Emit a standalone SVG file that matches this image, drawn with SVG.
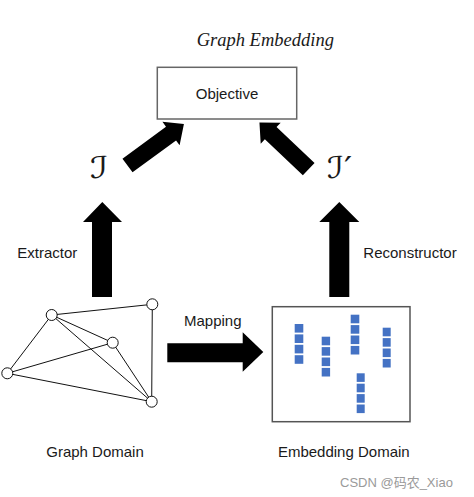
<svg xmlns="http://www.w3.org/2000/svg" width="474" height="497" viewBox="0 0 474 497">
<style>
.lbl{font-family:"Liberation Sans",Arial,sans-serif;font-size:15px;fill:#1a1a1a}
.math{font-family:"DejaVu Sans","Liberation Serif",serif;font-size:30px;font-weight:normal;fill:#1a1a1a}
.edge{stroke:#111;stroke-width:1;fill:none}
.node{fill:#fff;stroke:#111;stroke-width:1}
.sq{fill:#4472C4}
.big{fill:#000}
</style>
<defs>
<path id="diag" d="M0,-8.5 L54,-8.5 L54,-14.5 L70,0 L54,14.5 L54,8.5 L0,8.5 Z"/>
</defs>
<rect width="474" height="497" fill="#fff"/>
<text x="196.7" y="46" font-family="Liberation Serif,serif" font-style="italic" font-size="18.5" fill="#1a1a1a">Graph Embedding</text>
<g id="objective">
<rect x="157.3" y="67.3" width="139.4" height="51.7" fill="#fff" stroke="#666" stroke-width="1.5"/>
<text class="lbl" x="227" y="99" text-anchor="middle">Objective</text>
</g>
<g id="connectors">
<use href="#diag" class="big" transform="translate(127.5,165.5) rotate(-36.3)"/>
<use href="#diag" class="big" transform="translate(308.7,169.2) rotate(-136.5) scale(0.97,1)"/>
<path class="big" d="M92,297 L92,222 L83,222 L102.3,202 L122,222 L112,222 L112,297 Z"/>
<path class="big" d="M329.3,297 L329.3,222 L319.3,222 L339.3,202 L359.3,222 L349.3,222 L349.3,297 Z"/>
<path class="big" d="M167.3,343.3 L242.7,343.3 L242.7,332.3 L263.3,352 L242.7,371.7 L242.7,362.3 L167.3,362.3 Z"/>
</g>
<text class="math" x="90" y="178" transform="translate(90,0) scale(1.3,1) translate(-90,0)">ℐ</text>
<text class="math" x="327" y="178" transform="translate(327,0) scale(1.2,1) translate(-327,0)">ℐ′</text>
<text class="lbl" x="17.3" y="258">Extractor</text>
<text class="lbl" x="363.3" y="258">Reconstructor</text>
<text class="lbl" x="212.8" y="326" text-anchor="middle">Mapping</text>
<g id="graph-domain">
<line class="edge" x1="51.7" y1="315" x2="152.3" y2="304.3"/>
<line class="edge" x1="51.7" y1="315" x2="112.7" y2="342.7"/>
<line class="edge" x1="51.7" y1="315" x2="7.3" y2="373.3"/>
<line class="edge" x1="51.7" y1="315" x2="151.7" y2="401.7"/>
<line class="edge" x1="112.7" y1="342.7" x2="7.3" y2="373.3"/>
<line class="edge" x1="112.7" y1="342.7" x2="151.7" y2="401.7"/>
<line class="edge" x1="7.3" y1="373.3" x2="151.7" y2="401.7"/>
<line class="edge" x1="152.3" y1="304.3" x2="151.7" y2="401.7"/>
<circle class="node" cx="51.7" cy="315" r="5.5"/>
<circle class="node" cx="152.3" cy="304.3" r="5.5"/>
<circle class="node" cx="112.7" cy="342.7" r="5.5"/>
<circle class="node" cx="7.3" cy="373.3" r="5.5"/>
<circle class="node" cx="151.7" cy="401.7" r="5.5"/>
</g>
<text class="lbl" x="95" y="456.5" text-anchor="middle">Graph Domain</text>
<g id="embedding-domain">
<rect x="272.3" y="306.7" width="137.7" height="115" fill="#fff" stroke="#555" stroke-width="1.5"/>
<g class="sq">
<rect x="294.7" y="324" width="8.6" height="8.6"/><rect x="294.7" y="334.4" width="8.6" height="8.6"/><rect x="294.7" y="344.8" width="8.6" height="8.6"/><rect x="294.7" y="355.2" width="8.6" height="8.6"/>
<rect x="321.7" y="336.7" width="8.4" height="8.6"/><rect x="321.7" y="347.1" width="8.4" height="8.6"/><rect x="321.7" y="357.5" width="8.4" height="8.6"/><rect x="321.7" y="367.9" width="8.4" height="8.6"/>
<rect x="350.7" y="314.7" width="8.6" height="8.6"/><rect x="350.7" y="325.1" width="8.6" height="8.6"/><rect x="350.7" y="335.5" width="8.6" height="8.6"/><rect x="350.7" y="345.9" width="8.6" height="8.6"/>
<rect x="382.7" y="327.7" width="8" height="8.6"/><rect x="382.7" y="338.1" width="8" height="8.6"/><rect x="382.7" y="348.5" width="8" height="8.6"/><rect x="382.7" y="358.9" width="8" height="8.6"/>
<rect x="356.7" y="373.3" width="8" height="8.6"/><rect x="356.7" y="383.7" width="8" height="8.6"/><rect x="356.7" y="394.1" width="8" height="8.6"/><rect x="356.7" y="404.5" width="8" height="8.6"/>
</g>
</g>
<text class="lbl" x="343.8" y="456.5" text-anchor="middle">Embedding Domain</text>
<text x="340" y="486.5" font-family="Liberation Sans,'Noto Sans CJK SC',sans-serif" font-size="13" fill="#9a9a9a">CSDN @码农_Xiao</text>
</svg>
